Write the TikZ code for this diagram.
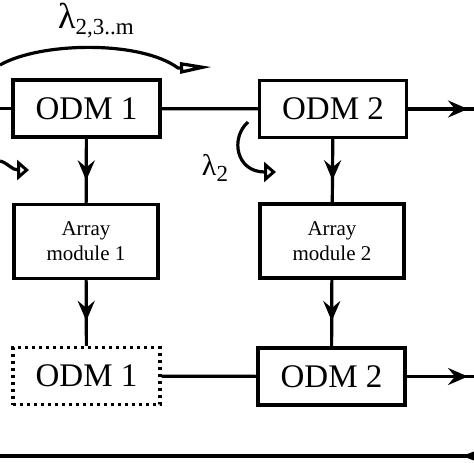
\documentclass[tikz,border=0pt]{standalone}
\usepackage{fontspec}
\setmainfont{Liberation Serif}
\usepackage{tikz}
\usetikzlibrary{arrows.meta,decorations.markings,positioning}

\begin{document}
\begin{tikzpicture}[x=1pt, y=-1pt, line width=3.2pt,
    box/.style = {draw, line width=3.2pt, inner sep=0pt},
    odm/.style = {box, minimum width=147pt, minimum height=57pt, font=\fontsize{33}{33}\selectfont},
    array/.style = {box, minimum width=144pt, minimum height=74pt, align=center, font=\fontsize{21}{25}\selectfont},
    ghost/.style = {odm, dash pattern=on 3pt off 4pt},
    tip/.tip = {Stealth[length=20pt, width=17pt, inset=7pt]},
    midarrow/.style = {postaction={decorate}, decoration={markings, mark=at position #1 with {\arrow{tip}}}},
    lamarrow/.style = {-{Triangle[open, length=12pt, width=20pt]}},
    lam/.style = {font=\fontsize{36}{36}\selectfont, inner sep=0pt}]
    \useasboundingbox (0,0) rectangle (474,474);

    \node [odm] (odm1) at (86.5,108.5) {ODM 1};
    \node [odm] (odm2) at (333,109) {ODM 2};
    \node [array] (array1) at (86,241.5) {Array\\module 1};
    \node [array] (array2) at (332,241) {Array\\module 2};
    \node [ghost] (odm1b) at (86.5,376) {ODM 1};
    \node [odm] (odm2b) at (331.5,376.5) {ODM 2};

    \coordinate (in) at (0,108.5);
    \coordinate (out1) at (474,109);
    \coordinate (out2) at (474,376.5);
    \coordinate (busl) at (0,456);
    \coordinate (busr) at (484,456);

    \draw (in) -- (odm1);
    \draw (odm1) -- (odm2);
    \draw [midarrow=-6pt] (odm2) -- (out1);
    \draw [midarrow=0.65] (odm1) -- (array1);
    \draw [midarrow=0.62] (array1) -- (odm1b);
    \draw [midarrow=0.65] (odm2) -- (array2);
    \draw [midarrow=0.62] (array2) -- (odm2b);
    \draw (odm1b) -- (odm2b);
    \draw [midarrow=-6pt] (odm2b) -- (out2);
    \draw [{Triangle[reversed, length=22pt, width=16pt]}-] (busr) -- (busl);

    \draw [-{Triangle[open, length=32pt, width=11pt]}] (0,65) .. controls (40,42) and (140,40) .. (178,68) -- (212,67);
    \draw [lamarrow] (0,161) .. controls (8,163) and (12,170) .. (29,170);
    \draw [lamarrow] (248,122) .. controls (230,138) and (236,172) .. (276,172);

    \node [lam] (lam1) at (96,21) {λ{\fontsize{23}{23}\selectfont\raisebox{-6pt}{2,3..m}}};
    \node [lam, font=\fontsize{30}{30}\selectfont] (lam2) at (215,168) {λ{\fontsize{23}{23}\selectfont\raisebox{-6pt}{2}}};
\end{tikzpicture}
\end{document}
